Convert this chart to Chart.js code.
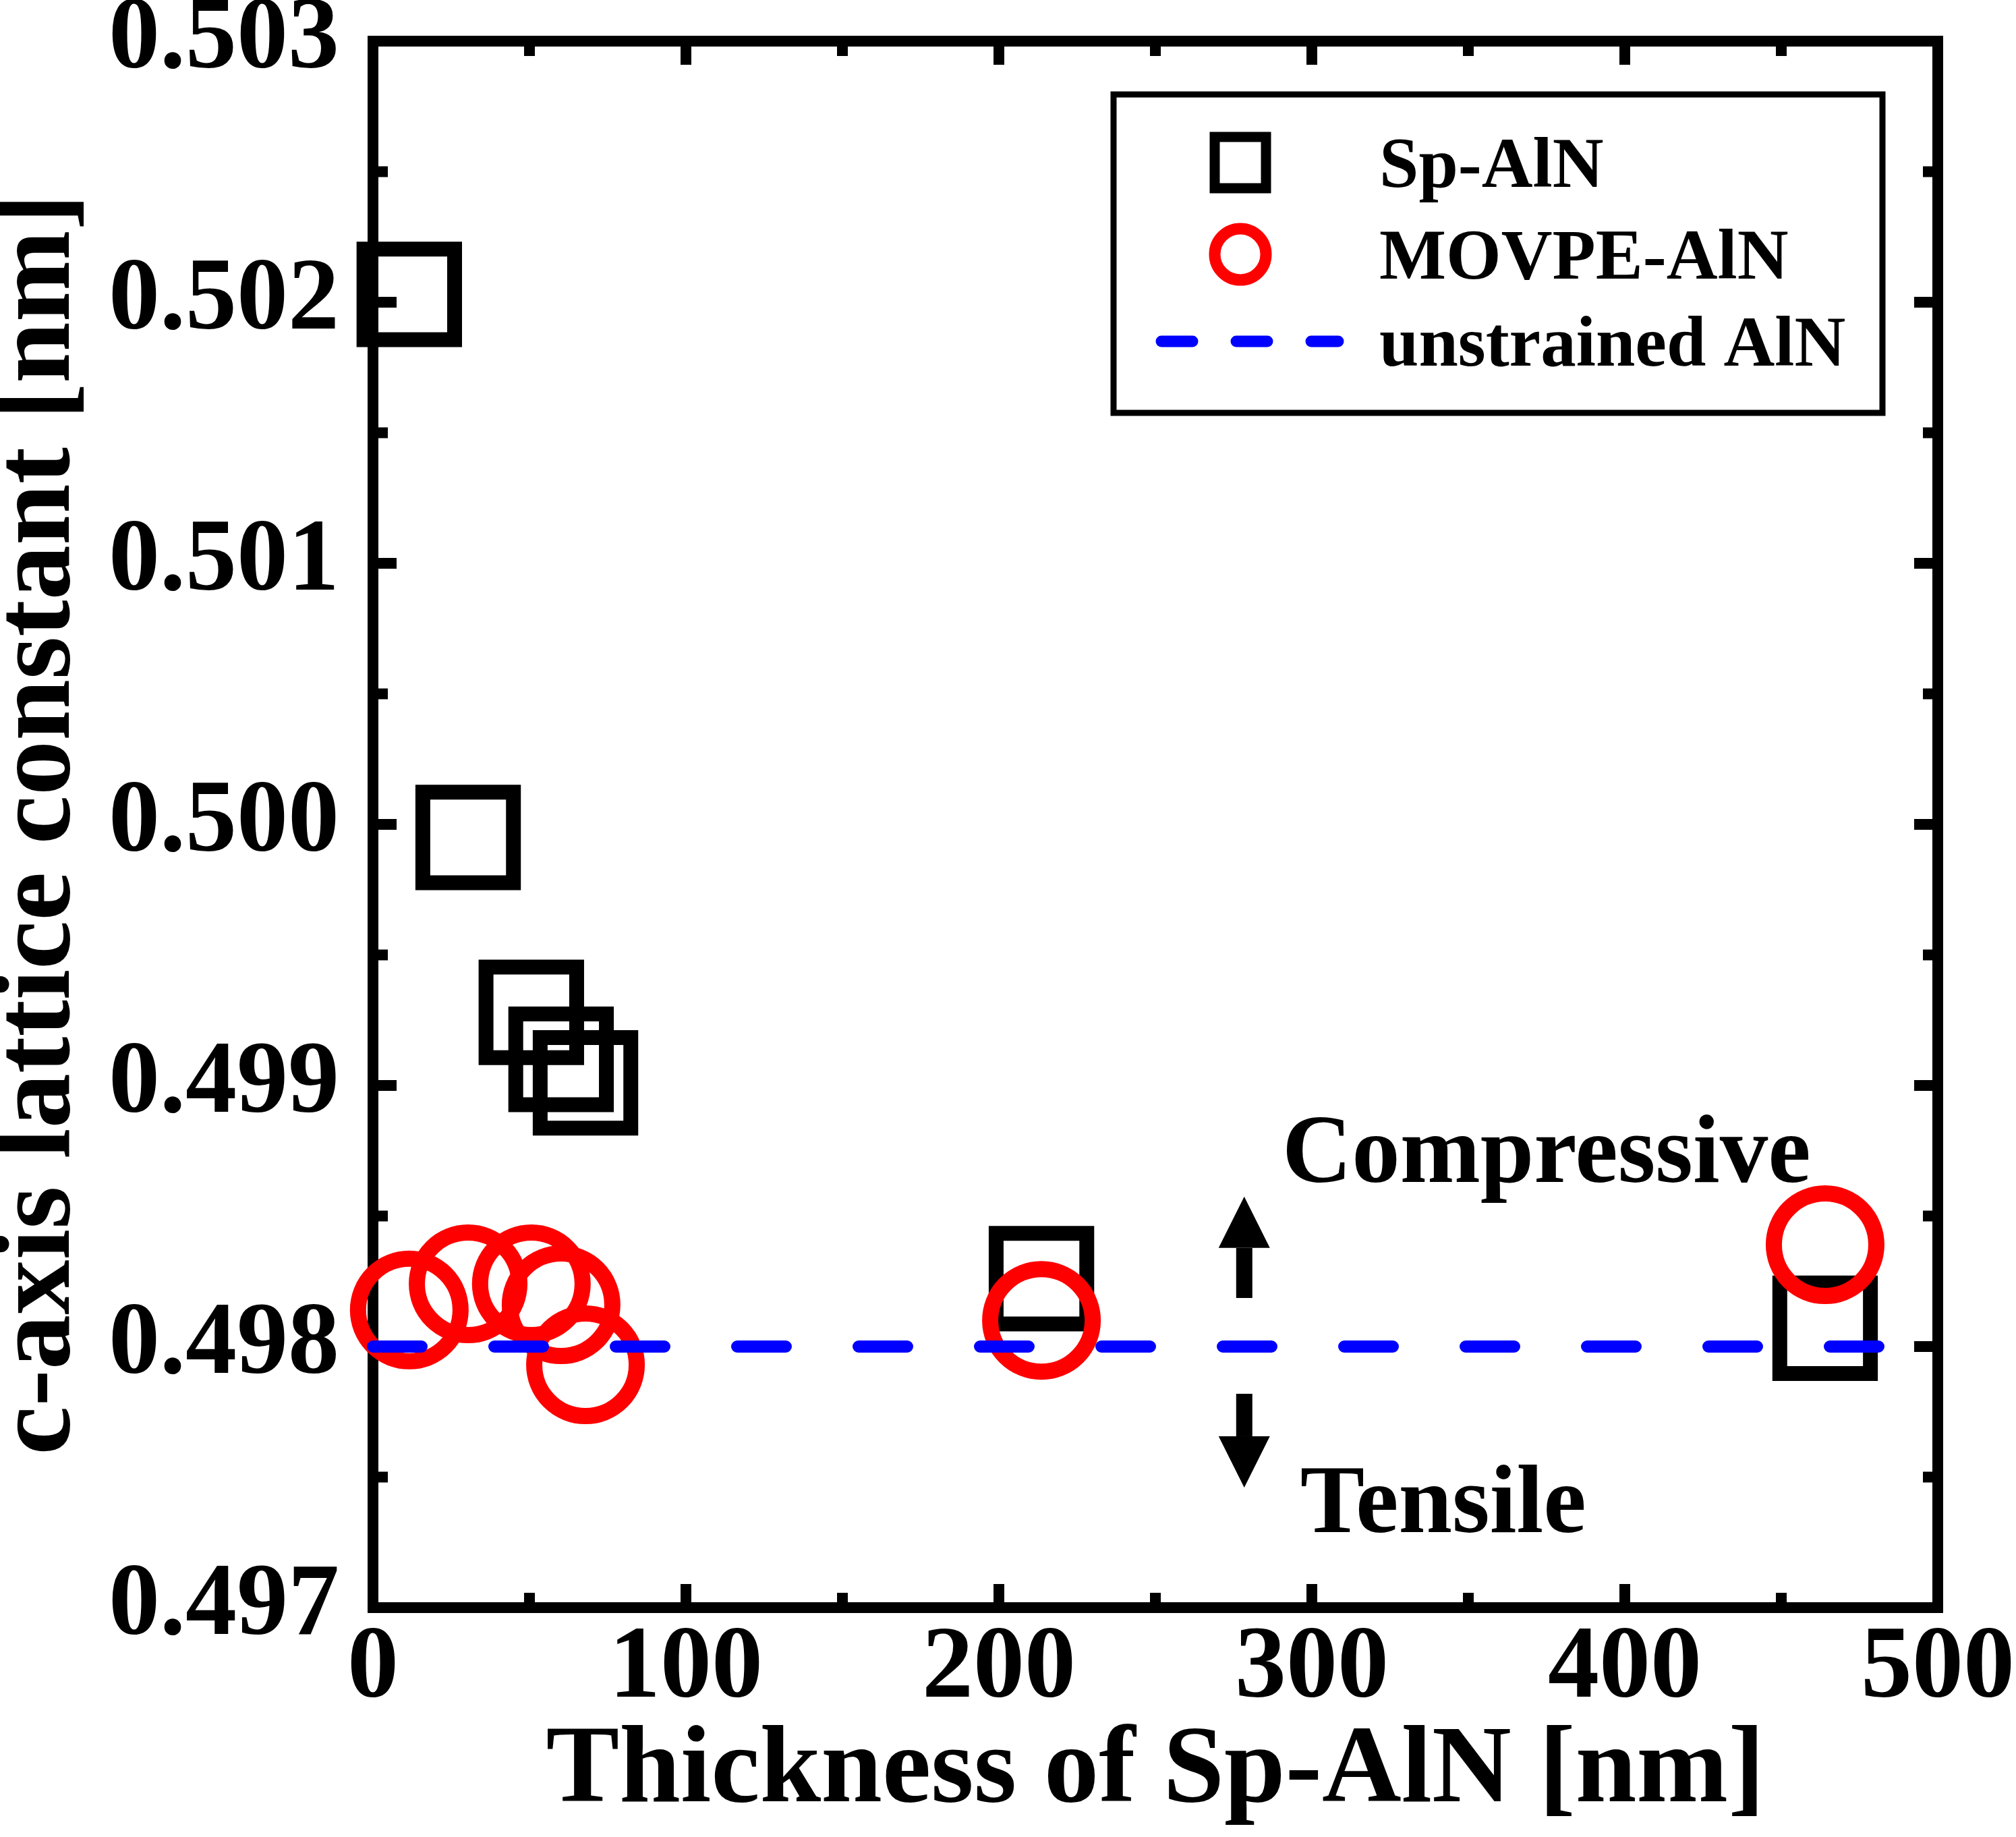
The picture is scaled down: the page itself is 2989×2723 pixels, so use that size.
<!DOCTYPE html>
<html>
<head>
<meta charset="utf-8">
<script src="https://cdn.jsdelivr.net/npm/chart.js@4.4.1/dist/chart.umd.min.js"></script>
<style>
  body { margin: 0; background: #fff; }
  canvas { display: block; }
</style>
</head>
<body>
<canvas id="myChart" width="2989" height="2723" style="width:2989px;height:2723px"></canvas>
<script>
// thickness of the sputtered AlN layer [nm]
var thickness = [11.6, 30.4, 50.6, 60.1, 67.9, 213.6, 464.0];
// c-axis lattice constants [nm]
var spAlN = [0.50203, 0.49995, 0.49928, 0.49910, 0.49901, 0.49826, 0.49807];
var movpeAlN = [0.49814, 0.49824, 0.49824, 0.49816, 0.49793, 0.49810, 0.49839];
// reference line for unstrained AlN
var unstrained = 0.498;
var lineX = [0, 485];

var xTicks = [0, 100, 200, 300, 400, 500];
var yTicks = [0.497, 0.498, 0.499, 0.500, 0.501, 0.502, 0.503];

// text notes and arrows, in data units
var notes = [
    { text: "Compressive", x: 290.5, y: 0.49863 },
    { text: "Tensile", x: 296.3, y: 0.49729 }
];
var arrows = [
    { x: 278.4, from: 0.498186, to: 0.498574 },
    { x: 278.4, from: 0.497819, to: 0.49746 }
];

var serif = "'Liberation Serif', 'Times New Roman', serif";

function pts(xs, ys) //pairs up x and y arrays
{
    var out = [];
    for (var i = 0; i < xs.length; i++) {
        out.push({ x: xs[i], y: ys[i] });
    }
    return out;
}

var framePlugin = {
    id: "frame",
    beforeDatasetsDraw: function (chart) {
        var ctx = chart.ctx, a = chart.chartArea;
        var xs = chart.scales.x, ys = chart.scales.y;
        ctx.save();
        ctx.strokeStyle = "#000";
        ctx.lineWidth = 16;
        ctx.lineJoin = "miter";
        ctx.strokeRect(a.left, a.top, a.right - a.left, a.bottom - a.top);

        function tick(x1, y1, x2, y2) {
            ctx.beginPath();
            ctx.moveTo(x1, y1);
            ctx.lineTo(x2, y2);
            ctx.stroke();
        }
        var xv = xs.ticks.map(function (t) { return t.value; });
        var yv = ys.ticks.map(function (t) { return t.value; });
        var i, p;
        for (i = 0; i < xv.length; i++) {
            p = xs.getPixelForValue(xv[i]);
            tick(p, a.bottom, p, a.bottom - 35);
            tick(p, a.top, p, a.top + 35);
            if (i < xv.length - 1) {
                p = xs.getPixelForValue((xv[i] + xv[i + 1]) / 2);
                tick(p, a.bottom, p, a.bottom - 22);
                tick(p, a.top, p, a.top + 22);
            }
        }
        for (i = 0; i < yv.length; i++) {
            p = ys.getPixelForValue(yv[i]);
            tick(a.left, p, a.left + 35, p);
            tick(a.right, p, a.right - 35, p);
            if (i < yv.length - 1) {
                p = ys.getPixelForValue((yv[i] + yv[i + 1]) / 2);
                tick(a.left, p, a.left + 22, p);
                tick(a.right, p, a.right - 22, p);
            }
        }
        ctx.restore();
    }
};

var notesPlugin = {
    id: "notes",
    afterDatasetsDraw: function (chart) {
        var ctx = chart.ctx, a = chart.chartArea;
        var xs = chart.scales.x, ys = chart.scales.y;
        ctx.save();

        // Compressive / Tensile labels
        ctx.fillStyle = "#000";
        ctx.font = "bold 143px " + serif;
        ctx.textAlign = "left";
        ctx.textBaseline = "alphabetic";
        notes.forEach(function (n) {
            ctx.fillText(n.text, xs.getPixelForValue(n.x), ys.getPixelForValue(n.y));
        });

        // arrows
        arrows.forEach(function (ar) {
            var px = xs.getPixelForValue(ar.x);
            var y0 = ys.getPixelForValue(ar.from);
            var y1 = ys.getPixelForValue(ar.to);
            var dir = y1 < y0 ? -1 : 1;
            var head = 76;
            ctx.fillRect(px - 12, Math.min(y0, y1 - dir * head), 24, Math.abs(y1 - dir * head - y0));
            ctx.beginPath();
            ctx.moveTo(px, y1);
            ctx.lineTo(px - 38, y1 - dir * head);
            ctx.lineTo(px + 38, y1 - dir * head);
            ctx.closePath();
            ctx.fill();
        });

        // legend box
        var lx = a.left + 1098, ly = a.top + 79, lw = 1140, lh = 472;
        ctx.fillStyle = "#fff";
        ctx.fillRect(lx, ly, lw, lh);
        ctx.strokeStyle = "#000";
        ctx.lineWidth = 9;
        ctx.strokeRect(lx, ly, lw, lh);

        var ds = chart.data.datasets;
        var mx = lx + 188;
        var rows = [ly + 101, ly + 237, ly + 366];

        // square marker
        ctx.lineWidth = 15;
        ctx.strokeStyle = ds[0].pointBorderColor;
        ctx.strokeRect(mx - 38, rows[0] - 38, 76, 76);
        // circle marker
        ctx.lineWidth = 17;
        ctx.strokeStyle = ds[1].pointBorderColor;
        ctx.beginPath();
        ctx.arc(mx, rows[1], 38, 0, Math.PI * 2);
        ctx.stroke();
        // dashed line
        ctx.lineWidth = 17;
        ctx.strokeStyle = ds[2].borderColor;
        ctx.lineCap = "round";
        ctx.setLineDash([46, 65]);
        ctx.beginPath();
        ctx.moveTo(mx - 117, rows[2]);
        ctx.lineTo(mx + 145, rows[2]);
        ctx.stroke();
        ctx.setLineDash([]);

        ctx.fillStyle = "#000";
        ctx.font = "bold 105px " + serif;
        ctx.textAlign = "left";
        ctx.textBaseline = "alphabetic";
        for (var i = 0; i < 3; i++) {
            ctx.fillText(ds[i].label, lx + 394, rows[i] + 36);
        }
        ctx.restore();
    }
};

var ctx = document.getElementById("myChart");
var myChart = new Chart(ctx,
{
    type: "scatter",
    data:
    {
        datasets:
        [
            {
                label: "Sp-AlN",
                data: pts(thickness, spAlN),
                pointStyle: "rect",
                pointRadius: 95,
                pointBorderWidth: 22,
                pointBorderColor: "#000000",
                pointBackgroundColor: "rgba(0,0,0,0)",
                borderColor: "#000000",
                backgroundColor: "rgba(0,0,0,0)",
                order: 3,
                clip: false
            },
            {
                label: "MOVPE-AlN",
                data: pts(thickness, movpeAlN),
                pointStyle: "circle",
                pointRadius: 76,
                pointBorderWidth: 24,
                pointBorderColor: "#ff0000",
                pointBackgroundColor: "rgba(0,0,0,0)",
                borderColor: "#ff0000",
                backgroundColor: "rgba(0,0,0,0)",
                order: 2,
                clip: false
            },
            {
                label: "unstrained AlN",
                data: lineX.map(function (v) { return { x: v, y: unstrained }; }),
                showLine: true,
                borderColor: "#0000ff",
                borderWidth: 18,
                borderDash: [72, 108],
                borderCapStyle: "round",
                pointRadius: 0,
                fill: false,
                order: 1,
                clip: false
            }
        ]
    },
    options:
    {
        responsive: false,
        animation: false,
        devicePixelRatio: 1,
        layout: { autoPadding: false, padding: { top: 61, right: 116, left: 0, bottom: 0 } },
        plugins:
        {
            legend: { display: false },
            tooltip: { enabled: false }
        },
        scales:
        {
            x:
            {
                type: "linear",
                min: 0,
                max: 500,
                afterBuildTicks: function (s) { s.ticks = xTicks.map(function (v) { return { value: v }; }); },
                ticks:
                {
                    color: "#000",
                    padding: 9,
                    maxRotation: 0,
                    autoSkip: false,
                    font: { family: serif, size: 152, weight: "bold", lineHeight: 1 }
                },
                grid: { display: false },
                border: { display: false },
                title:
                {
                    display: true,
                    text: "Thickness of Sp-AlN [nm]",
                    color: "#000",
                    font: { family: serif, size: 163, weight: "bold", lineHeight: 0.7 },
                    padding: { top: 0, bottom: 38 }
                },
                afterFit: function (s) {
                    s.height = 340;
                    s.paddingLeft = 0;
                    s.paddingRight = 0;
                }
            },
            y:
            {
                type: "linear",
                min: 0.497,
                max: 0.503,
                afterBuildTicks: function (s) { s.ticks = yTicks.map(function (v) { return { value: v }; }); },
                ticks:
                {
                    color: "#000",
                    padding: 42,
                    autoSkip: false,
                    callback: function (v) { return Number(v).toFixed(3); },
                    font: { family: serif, size: 152, weight: "bold", lineHeight: 0.7 }
                },
                grid: { display: false },
                border: { display: false },
                title:
                {
                    display: true,
                    text: "c-axis lattice constant [nm]",
                    color: "#000",
                    font: { family: serif, size: 163, weight: "bold", lineHeight: 0.7 },
                    padding: { top: 3, bottom: 0 }
                },
                afterFit: function (s) {
                    s.width = 553;
                    s.paddingTop = 0;
                    s.paddingBottom = 0;
                }
            }
        }
    },
    plugins: [framePlugin, notesPlugin]
});
</script>
</body>
</html>
